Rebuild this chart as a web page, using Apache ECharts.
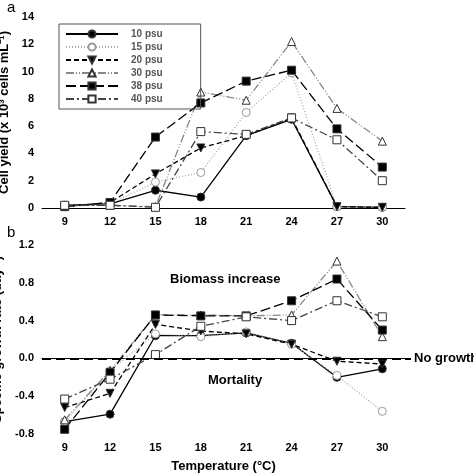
<!DOCTYPE html><html><head><meta charset="utf-8"><script src="https://cdn.jsdelivr.net/npm/echarts@6/dist/echarts.min.js"></script></head><body style="margin:0"><div id="c" style="width:474px;height:475px"></div><script>
const temps=['9','12','15','18','21','24','27','30'];
const names=['10 psu','15 psu','20 psu','30 psu','38 psu','40 psu'];
const yieldData=[
[0.2,0.3,1.3,0.8,5.3,6.5,0.1,0.05],
[0.1,0.3,1.9,2.6,7.0,9.9,0.1,0.05],
[0.1,0.4,2.5,4.4,5.3,6.6,0.1,0.05],
[0.2,0.2,0.1,8.5,7.9,12.2,7.3,4.9],
[0.1,0.4,5.2,7.7,9.3,10.1,5.8,3.0],
[0.2,0.2,0.05,5.6,5.4,6.6,5.0,2.0]];
const rateData=[
[-0.67,-0.59,0.24,0.24,0.27,0.16,-0.20,-0.11],
[-0.67,-0.13,0.26,0.23,0.28,0.15,-0.18,-0.56],
[-0.52,-0.37,0.36,0.29,0.26,0.15,-0.03,-0.06],
[-0.65,-0.13,0.46,0.46,0.45,0.46,1.03,0.23],
[-0.75,-0.15,0.46,0.45,0.45,0.61,0.84,0.30],
[-0.43,-0.22,0.04,0.34,0.44,0.40,0.61,0.44]];
const styles=[
{c:'#000',t:'solid',s:'circle',f:'#000',r:0},
{c:'#aaa',t:[1,2],s:'circle',f:'#fff',r:0},
{c:'#000',t:[5,3],s:'triangle',f:'#000',r:180},
{c:'#888',t:[8,2,1,2,1,2],s:'triangle',f:'#fff',r:0},
{c:'#000',t:[10,4],s:'rect',f:'#000',r:0},
{c:'#444',t:[8,3,2,3],s:'rect',f:'#fff',r:0}];
const F='Liberation Sans';
const lab=(fmt)=>({color:'#000',fontWeight:'bold',fontSize:11,fontFamily:F,formatter:fmt});
const ax={axisLine:{lineStyle:{color:'#000'}},axisTick:{lineStyle:{color:'#000'},length:4},splitLine:{show:false}};
const nameStyle={fontWeight:'bold',fontSize:13,fontFamily:F};
const series=[];
[yieldData,rateData].forEach((D,g)=>D.forEach((d,i)=>{const st=styles[i];series.push({name:names[i],type:'line',xAxisIndex:g,yAxisIndex:g,data:d,symbol:st.s,symbolSize:8,symbolRotate:st.r,lineStyle:{color:st.c,type:st.t,width:1.3},itemStyle:{color:st.f,borderColor:st.c==='#aaa'?'#999':'#333',borderWidth:1},z:3});}));
series.push({type:'line',xAxisIndex:1,yAxisIndex:1,data:[],markLine:{silent:true,symbol:'none',label:{show:false},lineStyle:{color:'#000',type:[9,5],width:2},data:[{yAxis:0}]}});
const chart=echarts.init(document.getElementById('c'));
chart.setOption({animation:false,
grid:[{left:42,top:17,width:363,height:191,outerBoundsMode:'none',containLabel:false},{left:42,top:245,width:363,height:189,outerBoundsMode:'none',containLabel:false}],
legend:{orient:'vertical',left:59,top:24,itemWidth:52,itemHeight:9,itemGap:3,data:names,borderColor:'#555',borderWidth:1,padding:[5,38,5,6],textStyle:{fontWeight:'bold',fontSize:10,fontFamily:F,padding:[0,0,0,8]}},
xAxis:[Object.assign({type:'category',gridIndex:0,data:temps,axisLabel:lab()},ax),Object.assign({type:'category',gridIndex:1,data:temps,axisLabel:lab(),name:'Temperature (°C)',nameLocation:'middle',nameGap:26,nameTextStyle:nameStyle},ax)],
yAxis:[Object.assign({type:'value',gridIndex:0,min:0,max:14,interval:2,axisLabel:lab(),name:'Cell yield (x 10³ cells mL⁻¹)',nameLocation:'middle',nameGap:24,nameTextStyle:nameStyle},ax),
Object.assign({type:'value',gridIndex:1,min:-0.8,max:1.2,interval:0.4,axisLabel:lab(v=>v.toFixed(1)),name:'Specific growth rate (day⁻¹)',nameLocation:'middle',nameGap:24,nameTextStyle:nameStyle},ax)],
graphic:[
{type:'text',left:7,top:0,style:{text:'a',font:'15px '+F,fill:'#000'}},
{type:'text',left:7,top:225,style:{text:'b',font:'15px '+F,fill:'#000'}},
{type:'text',left:170,top:273,style:{text:'Biomass increase',font:'bold 13px '+F,fill:'#000'}},
{type:'text',left:208,top:374,style:{text:'Mortality',font:'bold 13px '+F,fill:'#000'}},
{type:'text',left:414,top:352,style:{text:'No growth',font:'bold 13px '+F,fill:'#000'}},
{type:'line',shape:{x1:405,y1:359,x2:411,y2:359},style:{stroke:'#000',lineWidth:2}}],
series});
</script></body></html>
